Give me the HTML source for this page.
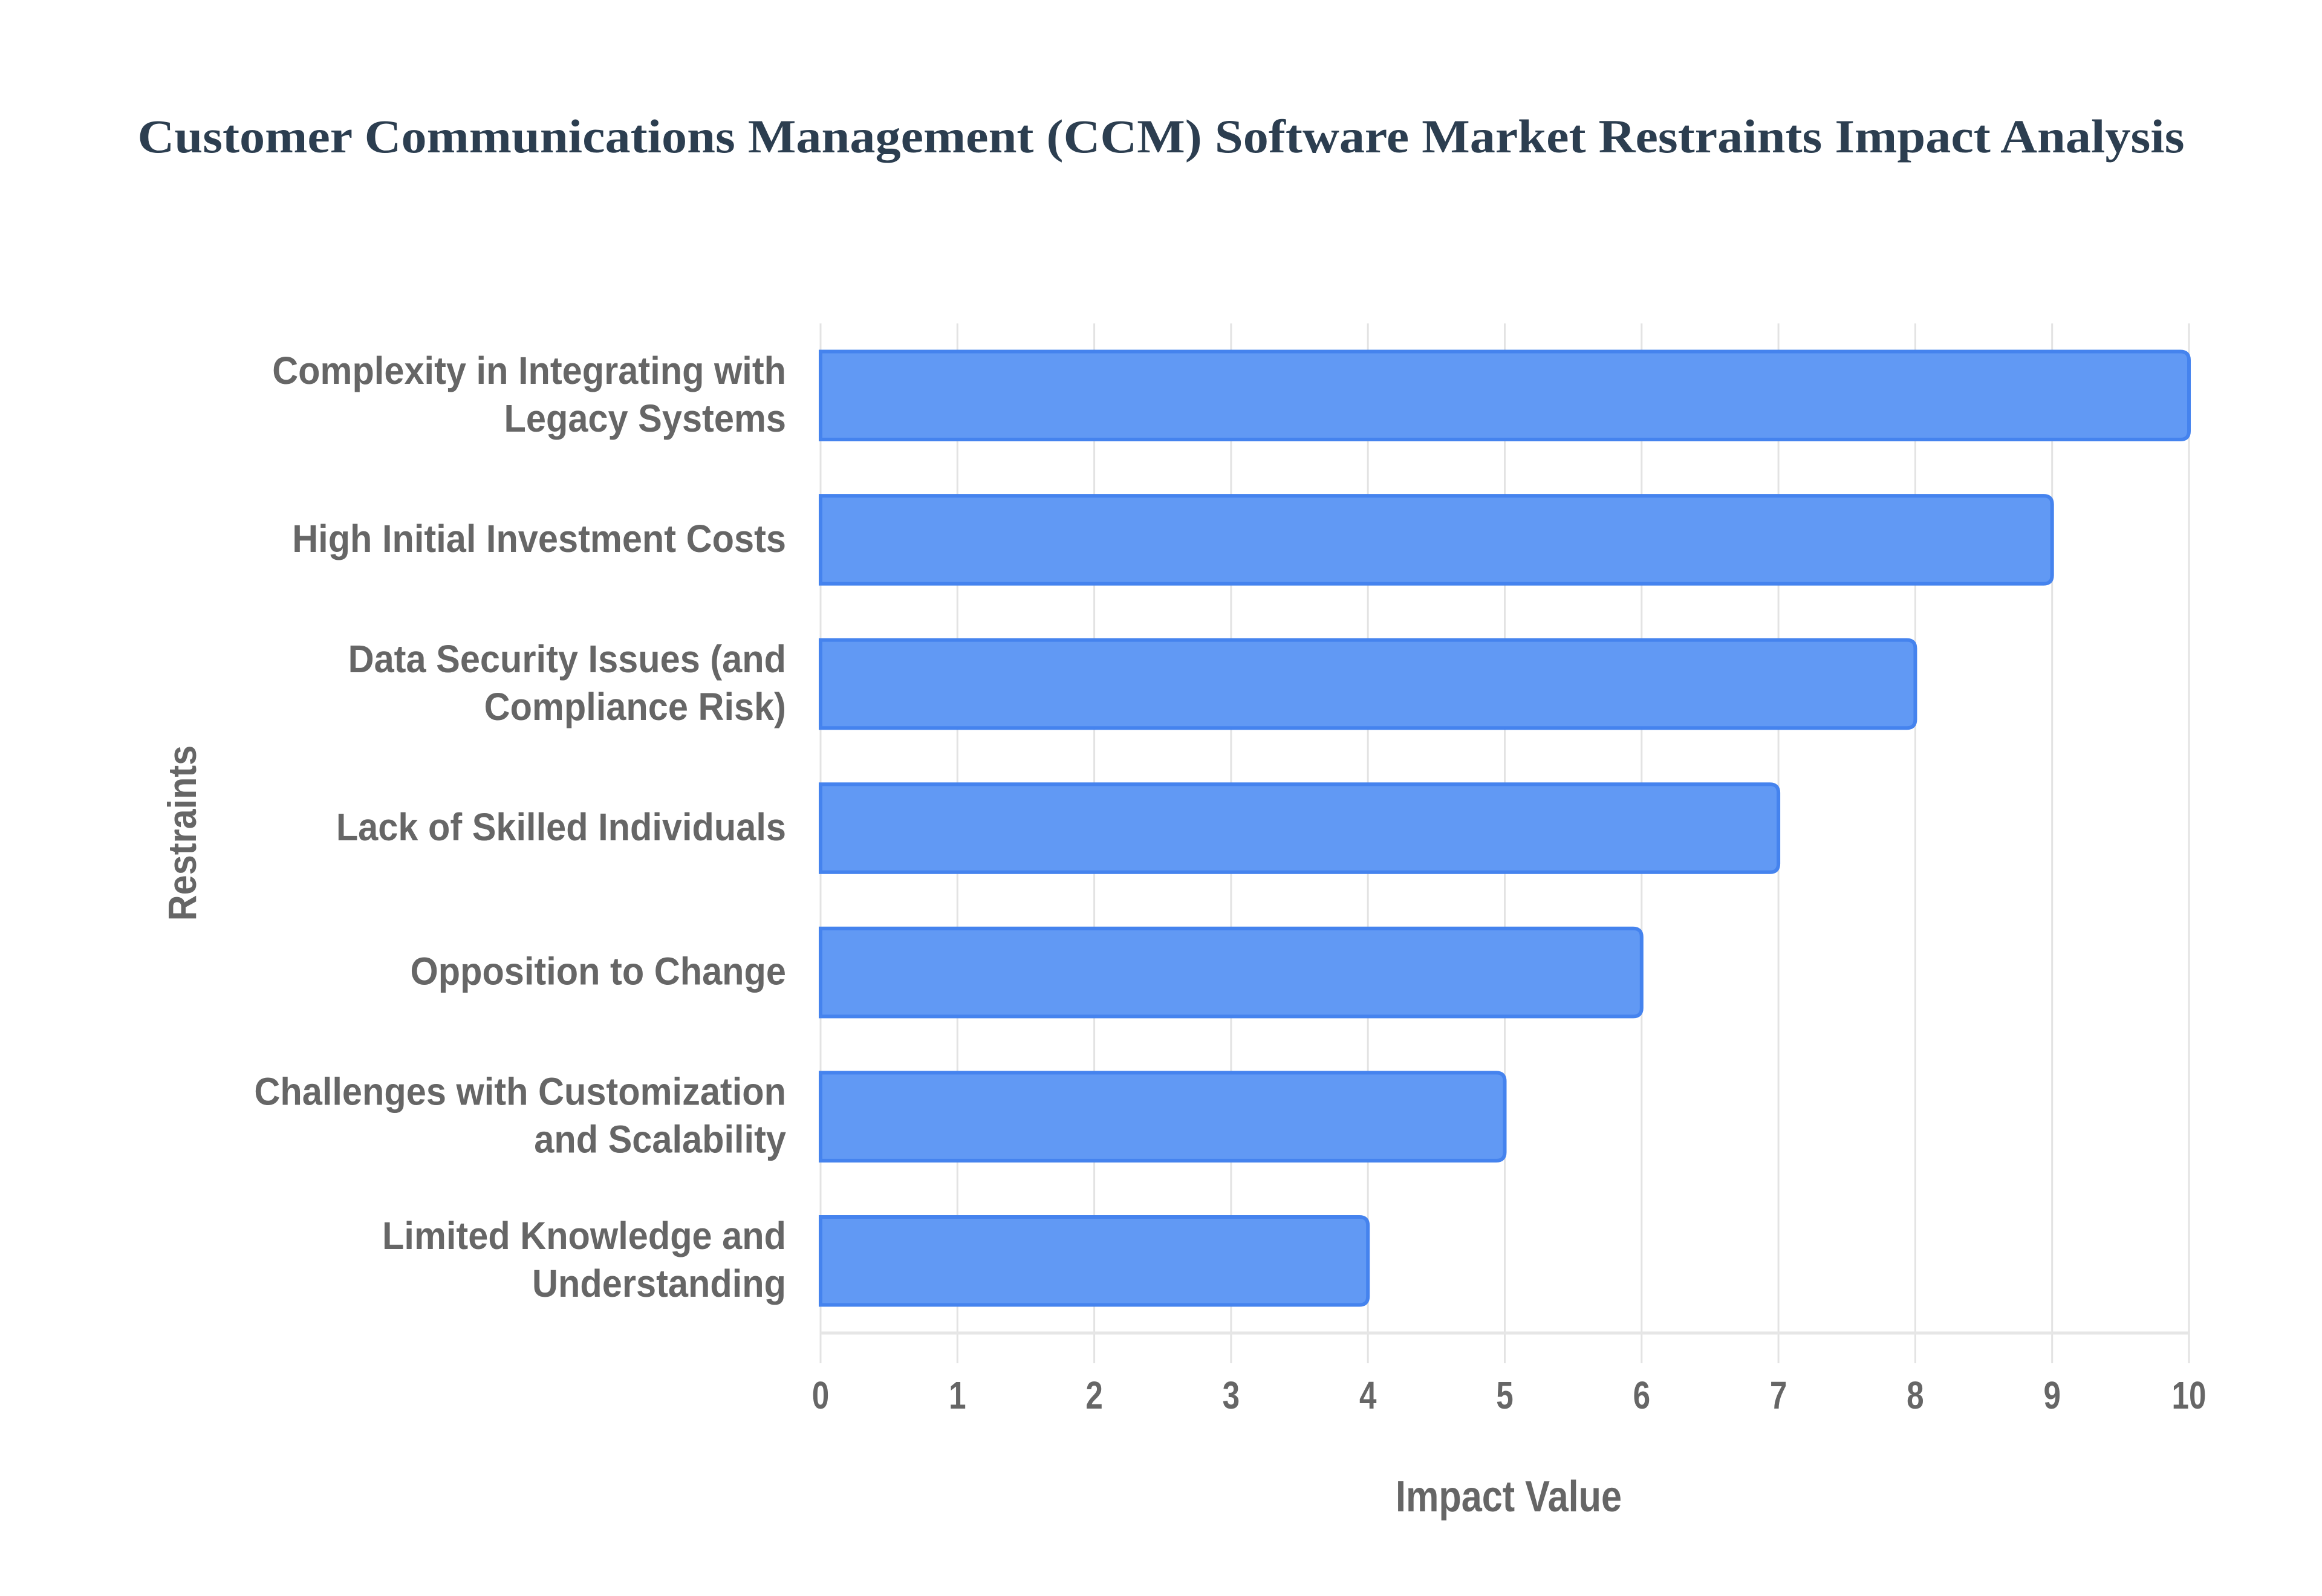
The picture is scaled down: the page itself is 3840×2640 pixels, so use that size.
<!DOCTYPE html>
<html><head><meta charset="utf-8"><style>
html,body{margin:0;padding:0;background:#fff;}
svg{display:block;}
</style></head><body>
<svg id="chart" width="3840" height="2640" viewBox="0 0 3840 2640" xmlns="http://www.w3.org/2000/svg">
<rect width="3840" height="2640" fill="#fff"/>
<text x="1920" y="252" text-anchor="middle" font-family="Liberation Serif, serif" font-weight="bold" font-size="78" fill="#2c3e50" textLength="3385" lengthAdjust="spacingAndGlyphs">Customer Communications Management (CCM) Software Market Restraints Impact Analysis</text>
<g id="grid"></g>
<g id="bars"></g>
<g id="ylabels"></g>
<g id="xticks"></g>
<text x="0" y="0" transform="translate(2495,2500) scale(0.85,1)" text-anchor="middle" font-family="Liberation Sans, sans-serif" font-weight="bold" font-size="72" fill="#666">Impact Value</text>
<text x="0" y="0" transform="translate(324,1378) rotate(-90) scale(0.9,1)" text-anchor="middle" font-family="Liberation Sans, sans-serif" font-weight="bold" font-size="66" fill="#666">Restraints</text>
</svg>
<script>
const categories = [
  ["Complexity in Integrating with","Legacy Systems"],
  ["High Initial Investment Costs"],
  ["Data Security Issues (and","Compliance Risk)"],
  ["Lack of Skilled Individuals"],
  ["Opposition to Change"],
  ["Challenges with Customization","and Scalability"],
  ["Limited Knowledge and","Understanding"]
];
const values = [10, 9, 8, 7, 6, 5, 4];
const tickValues = [0,1,2,3,4,5,6,7,8,9,10];

const NS = "http://www.w3.org/2000/svg";
const X0 = 1357, X1 = 3620, XMAX = 10;
const YTOP = 535, YBOT = 2205;
const band = (YBOT - YTOP) / categories.length;
const xs = v => X0 + (v / XMAX) * (X1 - X0);
const yc = i => YTOP + band * (i + 0.5);
function mk(tag, attrs, parent){ const e=document.createElementNS(NS,tag); for(const k in attrs) e.setAttribute(k,attrs[k]); parent.appendChild(e); return e; }

const grid = document.getElementById('grid');
tickValues.forEach(t => {
  const l = mk('line',{x1:xs(t),x2:xs(t),y1:YTOP,y2:YBOT+50,stroke:'#e3e3e3','stroke-width':3},grid);
  
  
});
const axis = mk('line',{x1:X0,x2:X1,y1:YBOT,y2:YBOT,stroke:'#e6e6e6','stroke-width':5},grid);



const xt = document.getElementById('xticks');
tickValues.forEach(t => {
  const e = mk('text',{x:0,y:0,transform:`translate(${xs(t)},2330) scale(0.8,1)`,'text-anchor':'middle','font-family':'Liberation Sans, sans-serif','font-weight':'bold','font-size':64,fill:'#666'},xt);
  e.textContent = t;
  
  
});

const bars = document.getElementById('bars');
const bh = band * 0.61;
values.forEach((v,i) => {
  const y = yc(i) - bh/2;
  const w = xs(v) - X0;
  const p = mk('path',{d:`M${X0},${y} H${X0+w-14} Q${X0+w},${y} ${X0+w},${y+14} V${y+bh-14} Q${X0+w},${y+bh} ${X0+w-14},${y+bh} H${X0} Z`,fill:'#6199f4',stroke:'#4583ee','stroke-width':6},bars);
  
  
});

const yl = document.getElementById('ylabels');
categories.forEach((lines,i) => {
  const lh = 79;
  const start = yc(i) - (lines.length-1)*lh/2 + 20;
  lines.forEach((s,j) => {
    const e = mk('text',{x:0,y:0,transform:`translate(1300,${start + j*lh}) scale(0.93,1)`,'text-anchor':'end','font-family':'Liberation Sans, sans-serif','font-weight':'bold','font-size':64,fill:'#666'},yl);
    e.textContent = s;
    
    
  });
});
</script>
</body></html>
